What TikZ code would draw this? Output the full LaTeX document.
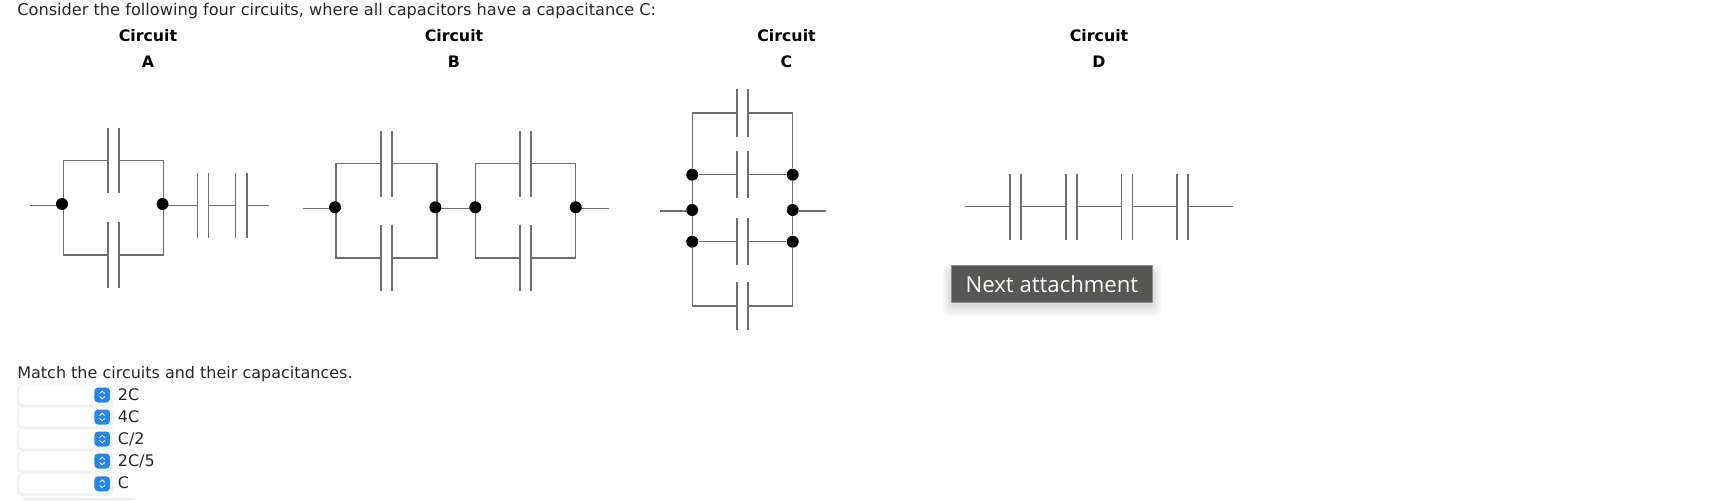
\documentclass[tikz,border=0pt]{standalone}
\usepackage{fontspec}
\setmainfont{DejaVu Sans}
\newfontfamily\tipfont{Open Sans}
\usetikzlibrary{positioning}
\definecolor{wiregray}{HTML}{6E6E6E}
\definecolor{inkgray}{HTML}{262626}
\definecolor{tipgray}{HTML}{565654}
\definecolor{selblue}{HTML}{2284F5}
% two plates, with (name-l) and (name-r) on the wire
\newcommand{\capac}[4]{%
  \coordinate (#1-l) at (#2-5.6,#3);
  \coordinate (#1-r) at (#2+5.6,#3);
  \draw[wire] (#2-5.6,#3-#4) -- (#2-5.6,#3+#4);
  \draw[wire] (#2+5.6,#3-#4) -- (#2+5.6,#3+#4);
}
\begin{document}
\begin{tikzpicture}[x=0.02cm,y=-0.02cm,
    wire/.style={draw=wiregray,line width=0.8pt},
    joint/.style={circle,fill=black,inner sep=0pt,minimum size=0.24cm},
    plain/.style={font=\fontsize{9.1pt}{11pt}\selectfont,text=inkgray,inner sep=0pt,anchor=base west},
    head/.style={font=\fontsize{9pt}{10pt}\selectfont\bfseries,text=black,inner sep=0pt,anchor=base},
    dropbox/.style={draw=black!6,fill=white,rounded corners=2.5pt,line width=0.5pt,minimum width=1.85cm,minimum height=0.4cm,inner sep=0pt}]
  \useasboundingbox (0,0) rectangle (1736,500);
  \node[plain,font=\fontsize{9.2pt}{11pt}\selectfont] (intro) at (17,15.2) {Consider the following four circuits, where all capacitors have a capacitance C:};
  \node[head] (ta1) at (148,41.8) {Circuit};
  \node[head] (ta2) at (148,67.7) {A};
  \node[head] (tb1) at (454,41.8) {Circuit};
  \node[head] (tb2) at (454,67.7) {B};
  \node[head] (tc1) at (786.5,41.8) {Circuit};
  \node[head] (tc2) at (786.5,67.7) {C};
  \node[head] (td1) at (1099,41.8) {Circuit};
  \node[head] (td2) at (1099,67.7) {D};
  % circuit A
  \capac{at}{113.5}{160.3}{32.7}
  \capac{ab}{113.5}{255}{33}
  \capac{as}{202.9}{205.3}{32.5}
  \capac{au}{241.2}{205.3}{32.5}
  \coordinate (ain) at (30,205.3);
  \coordinate (aout) at (269,205.3);
  \coordinate (al) at (63.3,205.3);
  \coordinate (ar) at (163.7,205.3);
  \draw[wire] (ain) -- (al) (al) |- (at-l) (at-r) -| (ar) (ar) |- (ab-r) (ab-l) -| (al);
  \draw[wire] (ar) -- (as-l) (as-r) -- (au-l) (au-r) -- (aout);
  \node[joint] (aj1) at (62,204) {};
  \node[joint] (aj2) at (162.5,204) {};
  % circuit B
  \capac{bt}{386.5}{163.7}{33}
  \capac{bb}{386.5}{258}{33.3}
  \capac{ct}{525.5}{163.7}{33}
  \capac{cb}{525.5}{258}{33.3}
  \coordinate (bin) at (303,208.7);
  \coordinate (bout) at (609,208.7);
  \coordinate (bl) at (336,208.7);
  \coordinate (br) at (437,208.7);
  \coordinate (cl) at (475.3,208.7);
  \coordinate (cr) at (575.7,208.7);
  \draw[wire] (bin) -- (bl) (bl) |- (bt-l) (bt-r) -| (br) (br) |- (bb-r) (bb-l) -| (bl);
  \draw[wire] (br) -- (cl) (cl) |- (ct-l) (ct-r) -| (cr) (cr) |- (cb-r) (cb-l) -| (cl);
  \draw[wire] (cr) -- (bout);
  \node[joint] (bj1) at (335,207.3) {};
  \node[joint] (bj2) at (435.4,207.3) {};
  \node[joint] (bj3) at (475.3,207.3) {};
  \node[joint] (bj4) at (575.7,207.3) {};
  % circuit C
  \capac{p1}{742.4}{113}{24.2}
  \capac{p2}{742.4}{174.7}{23.3}
  \capac{p3}{742.4}{241.7}{23.3}
  \capac{p4}{742.4}{306}{24.2}
  \coordinate (pin) at (659.6,211);
  \coordinate (pout) at (826,211);
  \coordinate (pl) at (686.5,211);
  \coordinate (pr) at (798.4,211);
  \node[joint] (pj1) at (692.2,174.7) {};
  \node[joint] (pj2) at (692.2,210) {};
  \node[joint] (pj3) at (692.2,241.7) {};
  \node[joint] (pj4) at (792.7,174.7) {};
  \node[joint] (pj5) at (792.7,210) {};
  \node[joint] (pj6) at (792.7,241.7) {};
  \draw[wire] (pin) -- (pl) (pr) -- (pout);
  \draw[wire] (pj1) |- (p1-l) (p1-r) -| (pj4);
  \draw[wire] (pj1) -- (p2-l) (p2-r) -- (pj4);
  \draw[wire] (pj3) -- (p3-l) (p3-r) -- (pj6);
  \draw[wire] (pj3) |- (p4-l) (p4-r) -| (pj6);
  \draw[wire] (pj1) -- (pj2) (pj2) -- (pj3) (pj4) -- (pj5) (pj5) -- (pj6);
  % circuit D
  \capac{d1}{1015.5}{206.7}{33}
  \capac{d2}{1071.4}{206.7}{33}
  \capac{d3}{1127}{206.7}{33}
  \capac{d4}{1182.5}{206.7}{33}
  \coordinate (din) at (965.3,206.7);
  \coordinate (dout) at (1233,206.7);
  \draw[wire] (din) -- (d1-l) (d1-r) -- (d2-l) (d2-r) -- (d3-l) (d3-r) -- (d4-l) (d4-r) -- (dout);
  % tooltip
  \foreach \g in {1,...,7}
    \fill[black,opacity=0.018,rounded corners=3pt] (951.4-\g*1.3,270-\g*0.6) rectangle (1152.7+\g*1.3,304+\g*1.8);
  \node[draw=black!45,fill=tipgray,line width=0.6pt,text=white,inner sep=0pt,minimum width=4.02cm,minimum height=0.73cm,font=\tipfont\fontsize{12.6pt}{14pt}\selectfont] (tip) at (1052,284) {Next attachment};
  % answers
  \node[plain] (match) at (17,378.3) {Match the circuits and their capacitances.};
  \foreach \n/\y/\lab in {1/395/2C,2/417/4C,3/439/C\slash 2,4/461/2C\slash 5,5/483.8/C}{
    \fill[black,opacity=0.05,rounded corners=2.5pt] (16.5,\y-9) rectangle (113,\y+12);
    \node[dropbox] (box\n) at (64.7,\y) {};
    \node[fill=selblue,rounded corners=2pt,inner sep=0pt,minimum width=0.31cm,minimum height=0.3cm] (sel\n) at (102.2,\y) {};
    \draw[white,line width=0.5pt] (99.6,\y-1.4) -- (102.2,\y-3.8) -- (104.8,\y-1.4);
    \draw[white,line width=0.5pt] (99.6,\y+1.4) -- (102.2,\y+3.8) -- (104.8,\y+1.4);
    \node[plain,anchor=base west] (lab\n) at (117.5,\y+5) {\lab};
  }
  \fill[black!8] (23,498.3) rectangle (135,500);
\end{tikzpicture}
\end{document}
